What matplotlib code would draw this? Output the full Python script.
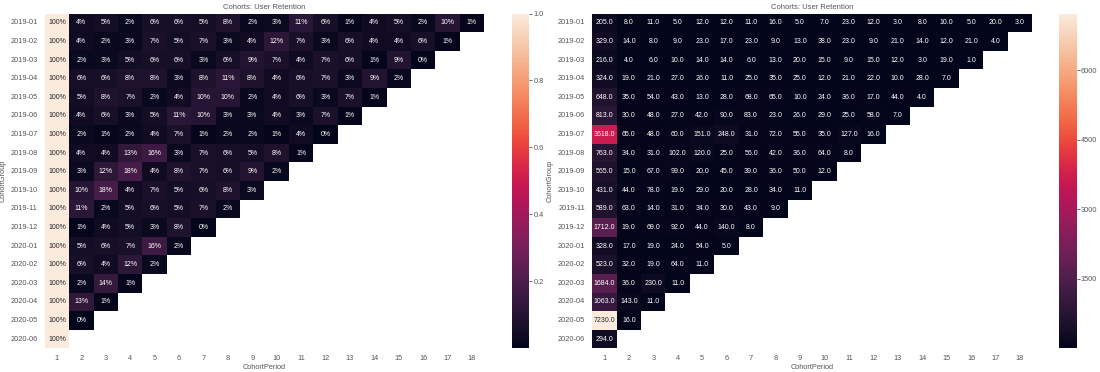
import numpy as np
import matplotlib
matplotlib.use("Agg")
import matplotlib.pyplot as plt
import seaborn as sns

# cohort months (rows) and months since first purchase (columns)
cohort_groups = ["2019-01", "2019-02", "2019-03", "2019-04", "2019-05", "2019-06",
                 "2019-07", "2019-08", "2019-09", "2019-10", "2019-11", "2019-12",
                 "2020-01", "2020-02", "2020-03", "2020-04", "2020-05", "2020-06"]
cohort_periods = list(range(1, 19))

# active users per cohort and period
user_counts = [
    [205, 8, 11, 5, 12, 12, 11, 16, 5, 7, 23, 12, 3, 8, 10, 5, 20, 3],
    [329, 14, 8, 9, 23, 17, 23, 9, 13, 38, 23, 9, 21, 14, 12, 21, 4],
    [216, 4, 6, 10, 14, 14, 6, 13, 20, 15, 9, 15, 12, 3, 19, 1],
    [324, 19, 21, 27, 26, 11, 25, 35, 25, 12, 21, 22, 10, 28, 7],
    [648, 35, 54, 43, 13, 28, 68, 65, 10, 24, 36, 17, 44, 4],
    [813, 30, 48, 27, 42, 90, 83, 23, 26, 29, 25, 58, 7],
    [3618, 65, 48, 60, 151, 248, 31, 72, 55, 35, 127, 16],
    [763, 34, 31, 102, 120, 25, 56, 42, 36, 64, 8],
    [565, 15, 67, 99, 20, 45, 39, 36, 50, 12],
    [431, 44, 78, 19, 29, 20, 28, 34, 11],
    [589, 63, 14, 31, 34, 30, 43, 9],
    [1712, 19, 69, 92, 44, 140, 8],
    [328, 17, 19, 24, 54, 5],
    [523, 32, 19, 64, 11],
    [1684, 36, 230, 11],
    [1063, 143, 11],
    [7230, 16],
    [294],
]

# retention in percent, as printed on the left heatmap
retention_pct = [
    [100, 4, 5, 2, 6, 6, 5, 8, 2, 3, 11, 6, 1, 4, 5, 2, 10, 1],
    [100, 4, 2, 3, 7, 5, 7, 3, 4, 12, 7, 3, 6, 4, 4, 6, 1],
    [100, 2, 3, 5, 6, 6, 3, 6, 9, 7, 4, 7, 6, 1, 9, 0],
    [100, 6, 6, 8, 8, 3, 8, 11, 8, 4, 6, 7, 3, 9, 2],
    [100, 5, 8, 7, 2, 4, 10, 10, 2, 4, 6, 3, 7, 1],
    [100, 4, 6, 3, 5, 11, 10, 3, 3, 4, 3, 7, 1],
    [100, 2, 1, 2, 4, 7, 1, 2, 2, 1, 4, 0],
    [100, 4, 4, 13, 16, 3, 7, 6, 5, 8, 1],
    [100, 3, 12, 18, 4, 8, 7, 6, 9, 2],
    [100, 10, 18, 4, 7, 5, 6, 8, 3],
    [100, 11, 2, 5, 6, 5, 7, 2],
    [100, 1, 4, 5, 3, 8, 0],
    [100, 5, 6, 7, 16, 2],
    [100, 6, 4, 12, 2],
    [100, 2, 14, 1],
    [100, 13, 1],
    [100, 0],
    [100],
]

TEXT_GREY = "#555555"


def to_grid(rows, n_cols):
    """Pad ragged rows with NaN so seaborn leaves the empty cells blank."""
    grid = np.full((len(rows), n_cols), np.nan)
    for i, row in enumerate(rows):
        grid[i, :len(row)] = row
    return grid


def draw_heatmap(fig, ax_rect, cbar_rect, data, fmt, ticks):
    ax = fig.add_axes(ax_rect)
    cax = fig.add_axes(cbar_rect)
    sns.heatmap(data, ax=ax, cbar_ax=cax, annot=True, fmt=fmt,
                annot_kws={"fontsize": 5},
                xticklabels=cohort_periods, yticklabels=cohort_groups,
                cbar_kws={"ticks": ticks})
    ax.set_title("Cohorts: User Retention", fontsize=5.5, pad=3, color=TEXT_GREY)
    ax.set_xlabel("CohortPeriod", fontsize=5.3, labelpad=1, color=TEXT_GREY)
    ax.set_ylabel("CohortGroup", fontsize=5.3, labelpad=3, color=TEXT_GREY)
    ax.tick_params(axis="both", labelsize=5.3, length=0, pad=5, labelcolor=TEXT_GREY)
    ax.tick_params(axis="y", rotation=0)
    ax.tick_params(axis="x", rotation=0)
    cax.tick_params(labelsize=5.3, length=2, width=0.6, pad=1,
                    color=TEXT_GREY, labelcolor=TEXT_GREY)
    return ax


if __name__ == "__main__":
    sns.set_theme(style="white")
    plt.rcParams["font.family"] = ["Liberation Sans", "DejaVu Sans"]

    n = len(cohort_periods)
    retention = to_grid(retention_pct, n) / 100.0
    counts = to_grid(user_counts, n)

    fig = plt.figure(figsize=(11, 3.72), dpi=100)
    draw_heatmap(fig, [0.0407, 0.0637, 0.3995, 0.900], [0.4655, 0.0637, 0.0155, 0.900],
                 retention, ".0%", [0.2, 0.4, 0.6, 0.8, 1.0])
    draw_heatmap(fig, [0.5383, 0.0637, 0.4001, 0.900], [0.963, 0.0637, 0.0158, 0.900],
                 counts, ".1f", [1500, 3000, 4500, 6000])
    fig.savefig("out.png", dpi=100)
